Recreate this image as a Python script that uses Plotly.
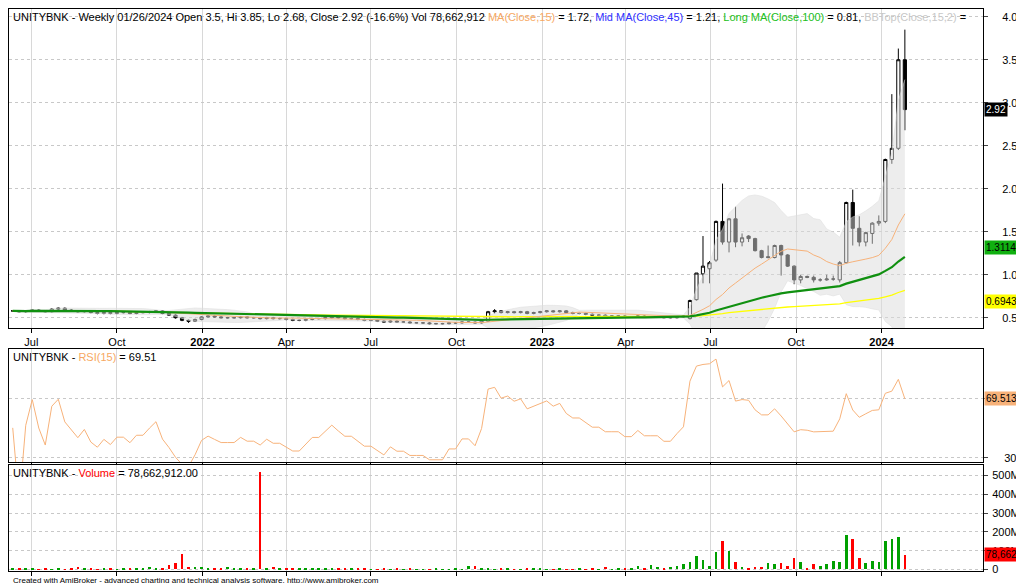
import numpy as np
import pandas as pd
import plotly.graph_objects as go
from plotly.subplots import make_subplots

# weekly bars, UNITYBNK, ending 2024-01-26
open_ = [0.58, 0.58, 0.57, 0.58, 0.59, 0.58, 0.57, 0.60, 0.61,
         0.59, 0.58, 0.57, 0.58, 0.56, 0.55, 0.56, 0.55, 0.56,
         0.56, 0.55, 0.56, 0.56, 0.57, 0.58, 0.55,
         0.53, 0.50, 0.47, 0.46, 0.48, 0.51,
         0.52, 0.51, 0.50, 0.50, 0.50, 0.51, 0.50, 0.50, 0.49, 0.50, 0.49, 0.49, 0.48,
         0.47, 0.47, 0.48, 0.49, 0.49, 0.50, 0.51, 0.50, 0.49, 0.49, 0.48, 0.47, 0.47,
         0.46, 0.45, 0.46, 0.45, 0.45, 0.44, 0.44, 0.44, 0.43, 0.43, 0.43, 0.44, 0.44,
         0.45, 0.45, 0.44, 0.46, 0.57, 0.58, 0.56, 0.57, 0.56, 0.57, 0.55, 0.56, 0.57,
         0.58, 0.57, 0.58, 0.56, 0.55, 0.55, 0.54, 0.53, 0.53, 0.52, 0.52, 0.52, 0.51, 0.51, 0.52, 0.51, 0.51,
         0.51, 0.50, 0.50, 0.51,
         0.49, 0.71, 1.01, 1.07, 1.17, 1.62, 1.38, 1.65, 1.38, 1.45, 1.42, 1.28, 1.21, 1.20, 1.34, 1.23, 1.10,
         0.94, 0.98, 0.97, 0.94, 0.94, 0.95, 0.94, 1.14, 1.84, 1.54, 1.38, 1.48, 1.60, 1.62, 2.34, 2.47, 3.50]
close = [0.58, 0.57, 0.58, 0.59, 0.58, 0.57, 0.60, 0.61, 0.59,
         0.58, 0.57, 0.58, 0.56, 0.55, 0.56, 0.55, 0.56, 0.56,
         0.55, 0.56, 0.56, 0.57, 0.58, 0.55, 0.53,
         0.50, 0.47, 0.46, 0.48, 0.51, 0.52,
         0.51, 0.50, 0.50, 0.50, 0.51, 0.50, 0.50, 0.49, 0.50, 0.49, 0.49, 0.48, 0.47,
         0.47, 0.48, 0.49, 0.49, 0.50, 0.51, 0.50, 0.49, 0.49, 0.48, 0.47, 0.47, 0.46,
         0.45, 0.46, 0.45, 0.45, 0.44, 0.44, 0.44, 0.43, 0.43, 0.43, 0.44, 0.44, 0.45,
         0.45, 0.44, 0.46, 0.57, 0.58, 0.56, 0.57, 0.56, 0.57, 0.55, 0.56, 0.57, 0.58,
         0.57, 0.58, 0.56, 0.55, 0.55, 0.54, 0.53, 0.53, 0.52, 0.52, 0.52, 0.51, 0.51, 0.52, 0.51, 0.51, 0.51,
         0.50, 0.50, 0.51, 0.52,
         0.70, 1.02, 1.10, 1.14, 1.62, 1.38, 1.65, 1.38, 1.43, 1.42, 1.28, 1.20, 1.20, 1.34, 1.23, 1.10, 0.94,
         0.98, 0.97, 0.94, 0.94, 0.95, 0.95, 1.14, 1.84, 1.54, 1.38, 1.49, 1.60, 1.62, 2.34, 2.47, 3.50, 2.92]
high = [0.59, 0.59, 0.59, 0.60, 0.60, 0.59, 0.61, 0.62, 0.62,
        0.60, 0.59, 0.59, 0.59, 0.57, 0.57, 0.57, 0.57, 0.57,
        0.57, 0.57, 0.57, 0.58, 0.59, 0.59, 0.56,
        0.54, 0.51, 0.48, 0.49, 0.52, 0.53,
        0.53, 0.52, 0.51, 0.51, 0.52, 0.52, 0.51, 0.51, 0.51, 0.51, 0.50, 0.50, 0.49,
        0.48, 0.49, 0.50, 0.50, 0.51, 0.52, 0.52, 0.51, 0.50, 0.50, 0.49, 0.48, 0.48,
        0.47, 0.47, 0.47, 0.46, 0.46, 0.45, 0.45, 0.45, 0.44, 0.44, 0.45, 0.45, 0.46,
        0.46, 0.46, 0.47, 0.58, 0.60, 0.59, 0.58, 0.58, 0.58, 0.58, 0.57, 0.58, 0.59,
        0.59, 0.59, 0.59, 0.57, 0.56, 0.56, 0.55, 0.54, 0.54, 0.53, 0.53, 0.53, 0.52, 0.53, 0.53, 0.52, 0.52,
        0.52, 0.51, 0.52, 0.53,
        0.71, 1.02, 1.45, 1.16, 1.63, 2.06, 1.66, 1.79, 1.48, 1.46, 1.43, 1.29, 1.34, 1.35, 1.35, 1.24, 1.11,
        1.00, 0.99, 0.99, 0.96, 1.00, 0.99, 1.16, 1.85, 1.99, 1.68, 1.50, 1.61, 1.69, 2.35, 3.10, 3.63, 3.85]
low = [0.57, 0.56, 0.56, 0.57, 0.57, 0.56, 0.56, 0.59, 0.58,
       0.57, 0.56, 0.56, 0.55, 0.54, 0.54, 0.54, 0.54, 0.55,
       0.54, 0.54, 0.55, 0.55, 0.56, 0.54, 0.52,
       0.49, 0.46, 0.44, 0.45, 0.47, 0.50,
       0.50, 0.49, 0.49, 0.49, 0.49, 0.49, 0.49, 0.48, 0.48, 0.48, 0.48, 0.47, 0.46,
       0.46, 0.46, 0.47, 0.48, 0.48, 0.49, 0.49, 0.48, 0.48, 0.47, 0.46, 0.46, 0.45,
       0.44, 0.44, 0.44, 0.44, 0.43, 0.43, 0.43, 0.42, 0.42, 0.42, 0.42, 0.43, 0.43,
       0.44, 0.43, 0.43, 0.45, 0.55, 0.55, 0.55, 0.55, 0.55, 0.54, 0.54, 0.55, 0.56,
       0.56, 0.56, 0.55, 0.54, 0.54, 0.53, 0.52, 0.52, 0.51, 0.51, 0.51, 0.50, 0.50, 0.50, 0.50, 0.50, 0.50,
       0.49, 0.49, 0.49, 0.50,
       0.48, 0.70, 0.90, 0.90, 1.15, 1.35, 1.26, 1.32, 1.33, 1.38, 1.27, 1.19, 1.19, 1.19, 0.99, 1.09, 0.89,
       0.90, 0.96, 0.91, 0.92, 0.93, 0.93, 0.91, 1.13, 1.34, 1.33, 1.33, 1.36, 1.57, 1.60, 2.29, 2.45, 2.68]
volume_m = [3, 8, 9, 9, 2, 4, 2, 5, 2, 3,
            14, 3, 3, 2, 3, 4, 2, 3, 5, 4,
            3, 15, 4, 5, 22, 35, 80, 12, 13, 12,
            10, 9, 5, 14, 6, 3, 4, 3, 520, 4,
            12, 4, 4, 4, 4, 8, 3, 3, 4, 3,
            3, 4, 3, 3, 3, 2, 2, 3, 2, 3,
            1, 3, 2, 1, 1, 5, 1, 1, 3, 2,
            20, 20, 8, 4, 2, 3, 4, 2, 2, 6,
            6, 8, 2, 1, 8, 2, 2, 5, 2, 6,
            2, 14, 2, 10, 7, 6, 18, 10, 25, 12,
            8, 14, 20, 30,
            40, 70, 50, 20, 95, 150, 100, 40, 15, 10, 15, 15, 35, 30, 35, 20, 60,
            40, 5, 30, 20, 30, 45, 40, 185, 160, 60, 35, 45, 40, 150, 160, 170, 78.662912]

dates = pd.date_range(end='2024-01-26', periods=len(close), freq='7D')
df = pd.DataFrame({'o': open_, 'h': high, 'l': low, 'c': close, 'v': np.array(volume_m) * 1e6}, index=dates)

ma15 = df['c'].rolling(15, min_periods=1).mean()
ma45 = df['c'].rolling(45, min_periods=1).mean()
ma100 = df['c'].rolling(100, min_periods=1).mean()
sd15 = df['c'].rolling(15, min_periods=1).std().fillna(0)
bb_top = ma15 + 2 * sd15
bb_bot = ma15 - 2 * sd15

# RSI(15), Wilder smoothing
delta = df['c'].diff().fillna(0)
gain = delta.clip(lower=0).ewm(alpha=1 / 15, adjust=False).mean()
loss = (-delta.clip(upper=0)).ewm(alpha=1 / 15, adjust=False).mean()
rsi = 100 - 100 / (1 + gain / loss.replace(0, 1e-9))
rsi.iloc[0] = 50

vol_colors = ['#00a000' if c >= p else '#ff0000' for c, p in zip(df['c'], df['c'].shift(1).fillna(df['c'].iloc[0]))]

fig = make_subplots(rows=3, cols=1, shared_xaxes=True)

fig.add_trace(go.Scatter(x=dates, y=bb_top, mode='lines', line=dict(color='#dcdcdc', width=0.5), hoverinfo='skip'), row=1, col=1)
fig.add_trace(go.Scatter(x=dates, y=bb_bot, mode='lines', line=dict(color='#dcdcdc', width=0.5), fill='tonexty',
                         fillcolor='rgba(220,220,220,0.5)', hoverinfo='skip'), row=1, col=1)
fig.add_trace(go.Scatter(x=dates, y=ma100, mode='lines', line=dict(color='#ffff00', width=1.3)), row=1, col=1)
fig.add_trace(go.Scatter(x=dates, y=ma15, mode='lines', line=dict(color='#f7b27a', width=1)), row=1, col=1)
fig.add_trace(go.Scatter(x=dates, y=ma45, mode='lines', line=dict(color='#109010', width=2.2)), row=1, col=1)
fig.add_trace(go.Candlestick(x=dates, open=df['o'], high=df['h'], low=df['l'], close=df['c'],
                             increasing=dict(line=dict(color='black', width=1), fillcolor='white'),
                             decreasing=dict(line=dict(color='black', width=1), fillcolor='black'),
                             whiskerwidth=0), row=1, col=1)
fig.add_trace(go.Scatter(x=dates, y=rsi, mode='lines', line=dict(color='#f7b27a', width=1)), row=2, col=1)
fig.add_trace(go.Bar(x=dates, y=df['v'], marker_color=vol_colors, marker_line_width=0,
                     width=2.8 * 86400000), row=3, col=1)

tickvals = ['2021-07-01', '2021-10-01', '2022-01-01', '2022-04-01', '2022-07-01', '2022-10-01',
            '2023-01-01', '2023-04-01', '2023-07-01', '2023-10-01', '2024-01-01']
ticktext = ['Jul', 'Oct', '<b>2022</b>', 'Apr', 'Jul', 'Oct', '<b>2023</b>', 'Apr', 'Jul', 'Oct', '<b>2024</b>']

xr = [dates[0] - pd.Timedelta(days=4), dates[-1] + pd.Timedelta(weeks=12)]
axis_common = dict(showline=True, mirror=True, linecolor='black', linewidth=1, zeroline=False)
for i in (1, 2, 3):
    fig.update_xaxes(range=xr, tickvals=tickvals, ticktext=ticktext, showgrid=True, gridcolor='#d8d8d8',
                     ticks='outside', ticklen=4, tickcolor='black', rangeslider_visible=False,
                     showticklabels=(i == 1), tickfont=dict(size=11, color='black'), **axis_common, row=i, col=1)

fig.update_yaxes(domain=[0.448, 1], range=[0.38, 4.09], side='right', tickvals=[0.5, 1, 1.5, 2, 2.5, 3, 3.5, 4],
                 ticktext=['0.5', '1.0', '1.5', '2.0', '2.5', '3.0', '3.5', '4.0'], showgrid=True,
                 gridcolor='#c8c8c8', griddash='dot', ticks='outside', ticklen=4, ticklabelstandoff=12,
                 **axis_common, row=1, col=1)
fig.update_yaxes(domain=[0.216, 0.412], range=[27, 103], side='right', tickvals=[30, 69.5132], ticktext=['30', ''],
                 showgrid=True, gridcolor='#c8c8c8', griddash='dot', ticks='outside', ticklen=4, ticklabelstandoff=14,
                 **axis_common, row=2, col=1)
fig.update_yaxes(domain=[0.027, 0.211], range=[-1e7, 5.55e8], side='right',
                 tickvals=[0, 1e8, 2e8, 3e8, 4e8, 5e8], ticktext=['0', '100M', '200M', '300M', '400M', '500M'],
                 showgrid=True, gridcolor='#c8c8c8', griddash='dot', ticks='outside', ticklen=4, ticklabelstandoff=2,
                 **axis_common, row=3, col=1)

font = dict(family='Liberation Sans, Arial', size=11, color='black')
fig.update_layout(width=1024, height=583, margin=dict(l=0, r=49, t=0, b=0), showlegend=False,
                  paper_bgcolor='white', plot_bgcolor='white', font=font, bargap=0)

header = ('UNITYBNK - Weekly 01/26/2024 Open 3.5, Hi 3.85, Lo 2.68, Close 2.92 (-16.6%) Vol 78,662,912 '
          '<span style="color:#f7a862">MA(Close,15)</span> = 1.72, <span style="color:#3030ff">Mid MA(Close,45)</span>'
          ' = 1.21, <span style="color:#20c020">Long MA(Close,100)</span> = 0.81, '
          '<span style="color:#c8c8c8">BBTop(Close,15,2)</span> =')
fig.add_annotation(xref='paper', yref='paper', x=0.002, y=1.0, xanchor='left', yanchor='top', text=header,
                   showarrow=False, font=font)
fig.add_annotation(xref='paper', yref='paper', x=0.002, y=0.412, xanchor='left', yanchor='top',
                   text='UNITYBNK - <span style="color:#f7a862">RSI(15)</span> = 69.51', showarrow=False, font=font)
fig.add_annotation(xref='paper', yref='paper', x=0.002, y=0.211, xanchor='left', yanchor='top',
                   text='UNITYBNK - <span style="color:#ff0000">Volume</span> = 78,662,912.00', showarrow=False, font=font)
fig.add_annotation(xref='paper', yref='paper', x=0.002, y=0.0, xanchor='left', yanchor='bottom',
                   text='Created with AmiBroker - advanced charting and technical analysis software. http://www.amibroker.com',
                   showarrow=False, font=dict(family='Liberation Sans, Arial', size=8, color='black'))

# last value labels on the right axis
tags = [('2.92', 2.92, 'y', 'black', 'white'),
        ('1.31144', 1.31144, 'y', '#10b010', 'black'),
        ('0.6943', 0.6943, 'y', '#ffff00', 'black'),
        ('69.5132', 69.5132, 'y2', '#f7b27a', 'black'),
        ('78,662,9', 78662912, 'y3', '#ff0000', 'black')]
for txt, val, yref, bg, fc in tags:
    fig.add_annotation(xref='paper', yref=yref, x=1.0, y=val, xanchor='left', xshift=1, text=txt,
                       showarrow=False, bgcolor=bg, font=dict(family='Liberation Sans, Arial', size=10, color=fc),
                       borderpad=1)

fig.write_html("out.html")
